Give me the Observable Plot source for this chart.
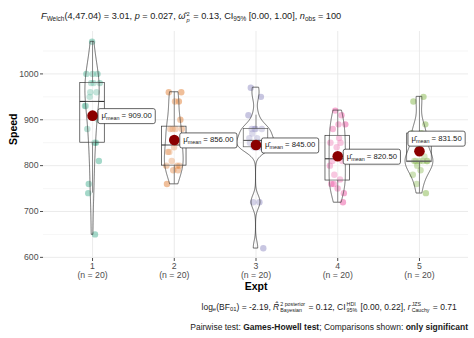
<!DOCTYPE html>
<html><head><meta charset="utf-8">
<script src="https://cdn.jsdelivr.net/npm/d3@7"></script>
<script src="https://cdn.jsdelivr.net/npm/@observablehq/plot@0.6"></script>
<style>
body{margin:0;background:#fff;font-family:"Liberation Sans",Arial,sans-serif;}
#wrap{width:474px;height:338px;position:relative;overflow:hidden;background:#fff}
#title{position:absolute;left:41px;top:11px;font-size:9.2px;color:#1a1a1a;white-space:nowrap;line-height:1}
#chart{position:absolute;left:0;top:24px}
#caption{position:absolute;right:6px;top:300px;text-align:center;font-size:8.5px;color:#1a1a1a;white-space:nowrap;line-height:1}
.st{display:inline-flex;flex-direction:column;vertical-align:middle;font-size:0.62em;line-height:1.05;text-align:left;margin:0 1px}
sub{font-size:0.7em;vertical-align:-0.25em}
i{font-style:italic}
#cap1{height:16px;display:flex;align-items:center;justify-content:center}
#cap2{margin-top:7px}
</style></head>
<body><div id="wrap">
<div id="title"><i>F</i><sub>Welch</sub>(4,47.04) = 3.01, <i>p</i> = 0.027, <i>ω̂</i><span class="st"><span>2</span><span><i>p</i></span></span> = 0.13, CI<sub>95%</sub> [0.00, 1.00], <i>n</i><sub>obs</sub> = 100</div>
<div id="chart"></div>
<div id="caption">
<div id="cap1"><span>log<sub>e</sub>(BF<sub>01</sub>) = -2.19, <i>R̂</i><span class="st"><span>2 posterior</span><span>Bayesian</span></span> = 0.12, CI<span class="st"><span>HDI</span><span>95%</span></span> [0.00, 0.22], <i>r</i><span class="st"><span>JZS</span><span>Cauchy</span></span> = 0.71</span></div>
<div id="cap2">Pairwise test: <b>Games-Howell test</b>; Comparisons shown: <b>only significant</b></div>
</div>
</div>
<script>
const expts = [1, 2, 3, 4, 5];
const speed1 = [850, 740, 900, 1070, 930, 850, 950, 980, 980, 880, 1000, 980, 930, 650, 760, 810, 1000, 1000, 960, 960];
const speed2 = [960, 940, 960, 940, 880, 800, 850, 880, 900, 840, 830, 790, 810, 880, 880, 830, 800, 790, 760, 800];
const speed3 = [880, 880, 880, 860, 720, 720, 620, 860, 970, 950, 880, 910, 850, 870, 840, 840, 850, 840, 840, 840];
const speed4 = [890, 810, 810, 820, 800, 770, 760, 740, 750, 760, 910, 920, 890, 860, 880, 720, 840, 850, 850, 780];
const speed5 = [890, 840, 780, 810, 760, 810, 790, 810, 820, 850, 870, 870, 810, 740, 810, 940, 950, 800, 810, 870];
const groups = [speed1, speed2, speed3, speed4, speed5];
const colors = ["#1B9E77", "#D95F02", "#7570B3", "#E7298A", "#66A61E"];
const yTicks = [600, 700, 800, 900, 1000];
const yMinor = [650, 750, 850, 950, 1050];

// points with deterministic jitter
const points = [];
groups.forEach((g, gi) => g.forEach((v, i) => {
  const j = (((i + 1) * 0.6180339887 + gi * 0.31) % 1 - 0.5) * 0.2;
  points.push({expt: expts[gi], speed: v, xj: expts[gi] + j});
}));

// violin densities (gaussian kde, nrd0 bandwidth, trimmed)
function nrd0(v) {
  const s = d3.deviation(v);
  const q = (d3.quantile(v, 0.75) - d3.quantile(v, 0.25)) / 1.34;
  const lo = Math.min(s, q) || s || 1;
  return 0.9 * lo * Math.pow(v.length, -0.2);
}
const violin = [];
let maxD = 0;
groups.forEach((g, gi) => {
  const bw = nrd0(g);
  const lo = d3.min(g), hi = d3.max(g);
  const n = 256;
  for (let k = 0; k < n; k++) {
    const y = lo + (hi - lo) * k / (n - 1);
    const d = d3.mean(g, x => Math.exp(-0.5 * ((y - x) / bw) ** 2)) / (bw * Math.sqrt(2 * Math.PI));
    maxD = Math.max(maxD, d);
    violin.push({expt: expts[gi], y, d});
  }
});
violin.forEach(r => { r.x1 = r.expt - r.d / maxD * 0.23; r.x2 = r.expt + r.d / maxD * 0.23; });

// boxplot stats
const boxes = groups.map((g, gi) => {
  const q1 = d3.quantile(g, 0.25), q3 = d3.quantile(g, 0.75), med = d3.median(g);
  const iqr = q3 - q1;
  const upper = d3.max(g.filter(v => v <= q3 + 1.5 * iqr));
  const lower = d3.min(g.filter(v => v >= q1 - 1.5 * iqr));
  return {expt: expts[gi], q1, q3, med, upper, lower, x1: expts[gi] - 0.15, x2: expts[gi] + 0.15};
});

const means = groups.map((g, gi) => ({expt: expts[gi], mean: d3.mean(g), label: d3.mean(g).toFixed(2), n: g.length}));
const labelSet = new Set(means.map(d => d.label));

const ink = "#333333";
const chart = Plot.plot({
  width: 474, height: 270,
  marginTop: 7, marginBottom: 36, marginLeft: 43, marginRight: 6,
  style: {fontFamily: "Liberation Sans, Arial, sans-serif", fontSize: "8.7px", color: "#4d4d4d", background: "white"},
  x: {domain: [0.4, 5.6], ticks: expts, tickFormat: i => `${i}\n(n = ${means[i - 1].n})`, tickSize: 3, tickPadding: 1.5, lineHeight: 1.05, label: null},
  y: {domain: [597.5, 1092.5], ticks: yTicks, tickFormat: d => String(d), tickSize: 3, tickPadding: 2, label: null},
  marks: [
    Plot.ruleY(yMinor, {stroke: "#f0f0f0", strokeWidth: 0.6}),
    Plot.ruleY(yTicks, {stroke: "#e6e6e6", strokeWidth: 0.8}),
    Plot.ruleX(expts, {stroke: "#e6e6e6", strokeWidth: 0.8}),
    Plot.dot(points, {x: "xj", y: "speed", r: 3.2, fill: d => colors[d.expt - 1], fillOpacity: 0.4, stroke: null}),
    Plot.rect(boxes, {x1: "x1", x2: "x2", y1: "q1", y2: "q3", fill: "white", fillOpacity: 0.2, stroke: ink, strokeWidth: 0.7}),
    Plot.ruleY(boxes, {y: "med", x1: "x1", x2: "x2", stroke: ink, strokeWidth: 1.1}),
    Plot.ruleX(boxes, {x: "expt", y1: "q3", y2: "upper", stroke: ink, strokeWidth: 0.7}),
    Plot.ruleX(boxes, {x: "expt", y1: "lower", y2: "q1", stroke: ink, strokeWidth: 0.7}),
    Plot.areaX(violin, {y: "y", x1: "x1", x2: "x2", z: "expt", fill: "white", fillOpacity: 0.2, stroke: ink, strokeWidth: 0.7}),
    Plot.dot(means, {x: "expt", y: "mean", r: 5.3, fill: "#8B0000", stroke: null}),
    Plot.text(means.filter(d => d.expt !== 5), {x: "expt", y: "mean", text: "label", textAnchor: "start", dx: 9, fontSize: 7.7, fill: "#1a1a1a"}),
    Plot.text(means.filter(d => d.expt === 5), {x: "expt", y: "mean", text: "label", textAnchor: "start", dx: -8, dy: -13, fontSize: 7.7, fill: "#1a1a1a"}),
    Plot.text(["Expt"], {text: d => d, frameAnchor: "bottom", dy: 31, fontWeight: "bold", fontSize: 10.5, fill: "black"}),
    Plot.text(["Speed"], {text: d => d, frameAnchor: "left", dx: -30, rotate: -90, fontWeight: "bold", fontSize: 10.5, fill: "black"})
  ]
});
document.getElementById("chart").appendChild(chart);

// rich mean labels with boxes
const svgNS = "http://www.w3.org/2000/svg";
Array.from(chart.querySelectorAll("text")).filter(t => labelSet.has(t.textContent)).forEach(t => {
  const val = t.textContent;
  while (t.firstChild) t.removeChild(t.firstChild);
  const a = document.createElementNS(svgNS, "tspan"); a.textContent = "μ̂"; t.appendChild(a);
  const b = document.createElementNS(svgNS, "tspan"); b.textContent = "mean"; b.setAttribute("font-size", "5.4"); b.setAttribute("dy", "2"); t.appendChild(b);
  const c = document.createElementNS(svgNS, "tspan"); c.textContent = " = " + val; c.setAttribute("dy", "-2"); t.appendChild(c);
  const bb = t.getBBox();
  const r = document.createElementNS(svgNS, "rect");
  r.setAttribute("x", bb.x - 3.5); r.setAttribute("y", bb.y - 2.5);
  r.setAttribute("width", bb.width + 7); r.setAttribute("height", bb.height + 5);
  r.setAttribute("rx", 2); r.setAttribute("fill", "white"); r.setAttribute("stroke", "#222"); r.setAttribute("stroke-width", 0.7);
  if (t.getAttribute("transform")) r.setAttribute("transform", t.getAttribute("transform"));
  t.parentNode.insertBefore(r, t);
});
</script>
</body></html>
